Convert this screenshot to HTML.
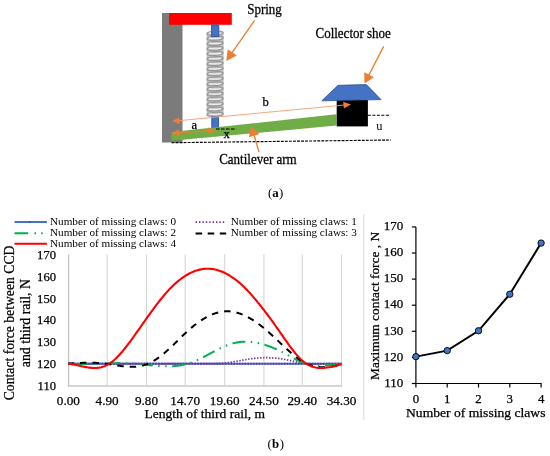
<!DOCTYPE html>
<html><head><meta charset="utf-8"><style>
html,body{margin:0;padding:0;background:#fff;}
svg{display:block;}
text{font-family:"Liberation Serif",serif;fill:#000;}
.sb{font-family:"Liberation Serif",serif;font-weight:bold;}
.t{stroke:#000;stroke-width:0.25px;}
</style></head><body>
<svg width="550" height="456" viewBox="0 0 550 456">

<rect x="162" y="13" width="20.5" height="129.5" fill="#7b7b7b"/>
<rect x="169" y="13" width="62.8" height="11.8" fill="#ff0000"/>
<rect x="206.6" y="31.5" width="17" height="85" rx="1.5" fill="#c2c2c2"/>
<ellipse cx="215.1" cy="33.20" rx="8.1" ry="1.9" fill="none" stroke="#979797" stroke-width="1.25" transform="rotate(-4 215.1 33.20)"/>
<path d="M209,33.00 Q215,34.20 221,33.00" fill="none" stroke="#eeeeee" stroke-width="1.3"/>
<ellipse cx="215.1" cy="38.26" rx="8.1" ry="1.9" fill="none" stroke="#979797" stroke-width="1.25" transform="rotate(-4 215.1 38.26)"/>
<path d="M209,38.06 Q215,39.26 221,38.06" fill="none" stroke="#eeeeee" stroke-width="1.3"/>
<ellipse cx="215.1" cy="43.32" rx="8.1" ry="1.9" fill="none" stroke="#979797" stroke-width="1.25" transform="rotate(-4 215.1 43.32)"/>
<path d="M209,43.12 Q215,44.32 221,43.12" fill="none" stroke="#eeeeee" stroke-width="1.3"/>
<ellipse cx="215.1" cy="48.38" rx="8.1" ry="1.9" fill="none" stroke="#979797" stroke-width="1.25" transform="rotate(-4 215.1 48.38)"/>
<path d="M209,48.18 Q215,49.38 221,48.18" fill="none" stroke="#eeeeee" stroke-width="1.3"/>
<ellipse cx="215.1" cy="53.44" rx="8.1" ry="1.9" fill="none" stroke="#979797" stroke-width="1.25" transform="rotate(-4 215.1 53.44)"/>
<path d="M209,53.24 Q215,54.44 221,53.24" fill="none" stroke="#eeeeee" stroke-width="1.3"/>
<ellipse cx="215.1" cy="58.50" rx="8.1" ry="1.9" fill="none" stroke="#979797" stroke-width="1.25" transform="rotate(-4 215.1 58.50)"/>
<path d="M209,58.30 Q215,59.50 221,58.30" fill="none" stroke="#eeeeee" stroke-width="1.3"/>
<ellipse cx="215.1" cy="63.56" rx="8.1" ry="1.9" fill="none" stroke="#979797" stroke-width="1.25" transform="rotate(-4 215.1 63.56)"/>
<path d="M209,63.36 Q215,64.56 221,63.36" fill="none" stroke="#eeeeee" stroke-width="1.3"/>
<ellipse cx="215.1" cy="68.62" rx="8.1" ry="1.9" fill="none" stroke="#979797" stroke-width="1.25" transform="rotate(-4 215.1 68.62)"/>
<path d="M209,68.42 Q215,69.62 221,68.42" fill="none" stroke="#eeeeee" stroke-width="1.3"/>
<ellipse cx="215.1" cy="73.68" rx="8.1" ry="1.9" fill="none" stroke="#979797" stroke-width="1.25" transform="rotate(-4 215.1 73.68)"/>
<path d="M209,73.48 Q215,74.68 221,73.48" fill="none" stroke="#eeeeee" stroke-width="1.3"/>
<ellipse cx="215.1" cy="78.74" rx="8.1" ry="1.9" fill="none" stroke="#979797" stroke-width="1.25" transform="rotate(-4 215.1 78.74)"/>
<path d="M209,78.54 Q215,79.74 221,78.54" fill="none" stroke="#eeeeee" stroke-width="1.3"/>
<ellipse cx="215.1" cy="83.80" rx="8.1" ry="1.9" fill="none" stroke="#979797" stroke-width="1.25" transform="rotate(-4 215.1 83.80)"/>
<path d="M209,83.60 Q215,84.80 221,83.60" fill="none" stroke="#eeeeee" stroke-width="1.3"/>
<ellipse cx="215.1" cy="88.86" rx="8.1" ry="1.9" fill="none" stroke="#979797" stroke-width="1.25" transform="rotate(-4 215.1 88.86)"/>
<path d="M209,88.66 Q215,89.86 221,88.66" fill="none" stroke="#eeeeee" stroke-width="1.3"/>
<ellipse cx="215.1" cy="93.92" rx="8.1" ry="1.9" fill="none" stroke="#979797" stroke-width="1.25" transform="rotate(-4 215.1 93.92)"/>
<path d="M209,93.72 Q215,94.92 221,93.72" fill="none" stroke="#eeeeee" stroke-width="1.3"/>
<ellipse cx="215.1" cy="98.98" rx="8.1" ry="1.9" fill="none" stroke="#979797" stroke-width="1.25" transform="rotate(-4 215.1 98.98)"/>
<path d="M209,98.78 Q215,99.98 221,98.78" fill="none" stroke="#eeeeee" stroke-width="1.3"/>
<ellipse cx="215.1" cy="104.04" rx="8.1" ry="1.9" fill="none" stroke="#979797" stroke-width="1.25" transform="rotate(-4 215.1 104.04)"/>
<path d="M209,103.84 Q215,105.04 221,103.84" fill="none" stroke="#eeeeee" stroke-width="1.3"/>
<ellipse cx="215.1" cy="109.10" rx="8.1" ry="1.9" fill="none" stroke="#979797" stroke-width="1.25" transform="rotate(-4 215.1 109.10)"/>
<path d="M209,108.90 Q215,110.10 221,108.90" fill="none" stroke="#eeeeee" stroke-width="1.3"/>
<ellipse cx="215.1" cy="114.16" rx="8.1" ry="1.9" fill="none" stroke="#979797" stroke-width="1.25" transform="rotate(-4 215.1 114.16)"/>
<path d="M209,113.96 Q215,115.16 221,113.96" fill="none" stroke="#eeeeee" stroke-width="1.3"/>
<rect x="211.6" y="25" width="7.2" height="11.4" fill="#4472c4" stroke="#2f52a0" stroke-width="0.9"/>
<rect x="211.8" y="117" width="6.8" height="11.6" fill="#4472c4" stroke="#2f52a0" stroke-width="0.9"/>
<polygon points="171.5,132 336.5,114.3 336.5,125.5 171.5,140.8" fill="#70ad47"/>
<rect x="336.7" y="100" width="31.2" height="26.4" fill="#000"/>
<polygon points="338,85.3 366.4,84.6 381,99.6 321.8,100.8" fill="#4472c4" stroke="#2f528f" stroke-width="0.8" stroke-linejoin="round"/>
<line x1="171.5" y1="142.7" x2="391" y2="140" stroke="#000" stroke-width="1.15" stroke-dasharray="2.9,1.15"/>
<line x1="367.9" y1="115.2" x2="389" y2="115.2" stroke="#000" stroke-width="1.15" stroke-dasharray="3,1.5"/>
<line x1="216" y1="129" x2="236.3" y2="129" stroke="#000" stroke-width="1.2" stroke-dasharray="3.6,1.4"/>
<line x1="177.23" y1="120.81" x2="345.77" y2="104.89" stroke="#f0a070" stroke-width="0.9"/>
<polygon points="351.00,104.40 343.85,108.49 343.21,101.72" fill="#ed7d31"/>
<polygon points="172.00,121.30 179.15,117.21 179.79,123.98" fill="#ed7d31"/>
<line x1="176.74" y1="132.95" x2="210.76" y2="130.65" stroke="#ed7d31" stroke-width="1.2"/>
<polygon points="216.00,130.30 208.75,134.20 208.29,127.41" fill="#ed7d31"/>
<polygon points="171.50,133.30 178.75,129.40 179.21,136.19" fill="#ed7d31"/>
<line x1="254.60" y1="20.30" x2="230.50" y2="54.97" stroke="#ed7d31" stroke-width="1.3"/>
<polygon points="226.30,61.00 227.78,49.24 236.81,55.52" fill="#ed7d31"/>
<line x1="383.60" y1="46.40" x2="367.70" y2="77.37" stroke="#ed7d31" stroke-width="1.3"/>
<polygon points="364.50,83.60 364.17,72.19 373.96,77.22" fill="#ed7d31"/>
<line x1="259.00" y1="152.00" x2="253.29" y2="132.71" stroke="#ed7d31" stroke-width="1.3"/>
<polygon points="251.30,126.00 259.41,134.03 248.87,137.15" fill="#ed7d31"/>
<text class="t" transform="translate(247.2,13.8) scale(1,1.06)" font-size="13">Spring</text>
<text class="t" transform="translate(315.5,37.8) scale(1,1.06)" font-size="13">Collector shoe</text>
<text class="t" transform="translate(219.2,163.8) scale(1,1.06)" font-size="13">Cantilever arm</text>
<text class="t" x="262.4" y="105.8" font-size="12.6">b</text>
<text class="t" x="191.4" y="128.9" font-size="12.6">a</text>
<text class="t" x="223.4" y="137.6" font-size="12.6">x</text>
<text x="376.3" y="130" font-size="12.4">u</text>
<text x="267.9" y="197.4" font-size="12.8">(</text><text class="sb" x="272.3" y="197.4" font-size="12.8">a</text><text x="279" y="197.4" font-size="12.8">)</text>
<text x="267.5" y="448.4" font-size="12.8">(</text><text class="sb" x="272" y="448.4" font-size="12.8">b</text><text x="279.7" y="448.4" font-size="12.8">)</text>
<line x1="68.6" y1="254.5" x2="68.6" y2="386" stroke="#c4c4c4" stroke-width="1.3"/>
<line x1="107.10" y1="254.5" x2="107.10" y2="385" stroke="#d6d6d6" stroke-width="1.1"/>
<line x1="146.50" y1="254.5" x2="146.50" y2="385" stroke="#d6d6d6" stroke-width="1.1"/>
<line x1="185.20" y1="254.5" x2="185.20" y2="385" stroke="#d6d6d6" stroke-width="1.1"/>
<line x1="224.70" y1="254.5" x2="224.70" y2="385" stroke="#d6d6d6" stroke-width="1.1"/>
<line x1="263.90" y1="254.5" x2="263.90" y2="385" stroke="#d6d6d6" stroke-width="1.1"/>
<line x1="302.30" y1="254.5" x2="302.30" y2="385" stroke="#d6d6d6" stroke-width="1.1"/>
<line x1="341.50" y1="254.5" x2="341.50" y2="385" stroke="#d6d6d6" stroke-width="1.1"/>
<line x1="67.9" y1="386" x2="342.10" y2="386" stroke="#c8c8c8" stroke-width="1.5"/>
<text class="t" x="56" y="389.7" font-size="12.6" text-anchor="end">110</text>
<text class="t" x="56" y="367.9" font-size="12.6" text-anchor="end">120</text>
<text class="t" x="56" y="346.1" font-size="12.6" text-anchor="end">130</text>
<text class="t" x="56" y="324.3" font-size="12.6" text-anchor="end">140</text>
<text class="t" x="56" y="302.5" font-size="12.6" text-anchor="end">150</text>
<text class="t" x="56" y="280.7" font-size="12.6" text-anchor="end">160</text>
<text class="t" x="56" y="258.9" font-size="12.6" text-anchor="end">170</text>
<text class="t" x="68.40" y="405.2" font-size="13.2" text-anchor="middle">0.00</text>
<text class="t" x="107.10" y="405.2" font-size="13.2" text-anchor="middle">4.90</text>
<text class="t" x="146.50" y="405.2" font-size="13.2" text-anchor="middle">9.80</text>
<text class="t" x="185.20" y="405.2" font-size="13.2" text-anchor="middle">14.70</text>
<text class="t" x="224.70" y="405.2" font-size="13.2" text-anchor="middle">19.60</text>
<text class="t" x="263.90" y="405.2" font-size="13.2" text-anchor="middle">24.50</text>
<text class="t" x="302.30" y="405.2" font-size="13.2" text-anchor="middle">29.40</text>
<text class="t" x="341.50" y="405.2" font-size="13.2" text-anchor="middle">34.30</text>
<text class="t" x="144.5" y="417.8" font-size="13" textLength="120.5" lengthAdjust="spacingAndGlyphs">Length of third rail, m</text>
<text class="t" transform="translate(13.9,322.95) rotate(-90)" font-size="13.7" text-anchor="middle">Contact force between CCD</text>
<text class="t" transform="translate(30,323.1) rotate(-90)" font-size="13.8" text-anchor="middle">and third rail, N</text>
<path d="M68.4,363.80 L341.50,363.80" stroke="#4472c4" stroke-width="2" fill="none"/>
<path d="M68.4,363.80 L341.50,363.80" stroke="#7030a0" stroke-width="2" fill="none" stroke-dasharray="1.3,1.5"/>
<path d="M68.50,363.60 L69.59,363.60 L70.69,363.60 L71.78,363.60 L72.88,363.60 L73.97,363.60 L75.07,363.60 L76.16,363.60 L77.25,363.60 L78.35,363.60 L79.44,363.60 L80.54,363.60 L81.63,363.60 L82.72,363.60 L83.82,363.60 L84.91,363.60 L86.01,363.60 L87.10,363.60 L88.20,363.60 L89.29,363.60 L90.38,363.60 L91.48,363.60 L92.57,363.60 L93.67,363.60 L94.76,363.60 L95.85,363.60 L96.95,363.60 L98.04,363.60 L99.14,363.60 L100.23,363.60 L101.33,363.60 L102.42,363.60 L103.51,363.60 L104.61,363.60 L105.70,363.60 L106.80,363.60 L107.89,363.60 L108.98,363.60 L110.08,363.60 L111.17,363.60 L112.27,363.60 L113.36,363.60 L114.46,363.60 L115.55,363.60 L116.64,363.60 L117.74,363.60 L118.83,363.60 L119.93,363.60 L121.02,363.60 L122.12,363.60 L123.21,363.60 L124.30,363.60 L125.40,363.60 L126.49,363.60 L127.59,363.60 L128.68,363.60 L129.77,363.60 L130.87,363.60 L131.96,363.60 L133.06,363.60 L134.15,363.60 L135.25,363.60 L136.34,363.60 L137.43,363.60 L138.53,363.60 L139.62,363.60 L140.72,363.60 L141.81,363.60 L142.90,363.60 L144.00,363.60 L145.09,363.60 L146.19,363.60 L147.28,363.60 L148.38,363.60 L149.47,363.60 L150.56,363.60 L151.66,363.60 L152.75,363.60 L153.85,363.60 L154.94,363.60 L156.04,363.60 L157.13,363.60 L158.22,363.60 L159.32,363.60 L160.41,363.60 L161.51,363.60 L162.60,363.60 L163.69,363.60 L164.79,363.60 L165.88,363.60 L166.98,363.60 L168.07,363.60 L169.17,363.60 L170.26,363.60 L171.35,363.60 L172.45,363.60 L173.54,363.60 L174.64,363.60 L175.73,363.60 L176.82,363.60 L177.92,363.60 L179.01,363.60 L180.11,363.60 L181.20,363.60 L182.30,363.60 L183.39,363.60 L184.48,363.60 L185.58,363.60 L186.67,363.60 L187.77,363.60 L188.86,363.60 L189.95,363.60 L191.05,363.60 L192.14,363.60 L193.24,363.60 L194.33,363.60 L195.43,363.60 L196.52,363.60 L197.61,363.60 L198.71,363.60 L199.80,363.60 L200.90,363.60 L201.99,363.60 L203.09,363.60 L204.18,363.59 L205.27,363.59 L206.37,363.58 L207.46,363.57 L208.56,363.57 L209.65,363.56 L210.74,363.55 L211.84,363.54 L212.93,363.52 L214.03,363.51 L215.12,363.50 L216.22,363.48 L217.31,363.45 L218.40,363.41 L219.50,363.35 L220.59,363.30 L221.69,363.23 L222.78,363.16 L223.87,363.08 L224.97,363.00 L226.06,362.90 L227.16,362.77 L228.25,362.62 L229.35,362.45 L230.44,362.27 L231.53,362.07 L232.63,361.88 L233.72,361.69 L234.82,361.52 L235.91,361.33 L237.01,361.14 L238.10,360.94 L239.19,360.74 L240.29,360.55 L241.38,360.35 L242.48,360.17 L243.57,359.99 L244.66,359.81 L245.76,359.63 L246.85,359.44 L247.95,359.26 L249.04,359.07 L250.14,358.90 L251.23,358.73 L252.32,358.58 L253.42,358.44 L254.51,358.32 L255.61,358.22 L256.70,358.14 L257.79,358.06 L258.89,357.99 L259.98,357.92 L261.08,357.85 L262.17,357.80 L263.27,357.75 L264.36,357.72 L265.45,357.70 L266.55,357.70 L267.64,357.72 L268.74,357.75 L269.83,357.79 L270.92,357.85 L272.02,357.91 L273.11,357.99 L274.21,358.07 L275.30,358.16 L276.40,358.25 L277.49,358.35 L278.58,358.45 L279.68,358.56 L280.77,358.70 L281.87,358.87 L282.96,359.06 L284.06,359.27 L285.15,359.50 L286.24,359.73 L287.34,359.97 L288.43,360.20 L289.53,360.43 L290.62,360.64 L291.71,360.86 L292.81,361.09 L293.90,361.32 L295.00,361.55 L296.09,361.78 L297.19,362.00 L298.28,362.22 L299.37,362.43 L300.47,362.66 L301.56,362.89 L302.66,363.12 L303.75,363.33 L304.84,363.49 L305.94,363.60 L307.03,363.66 L308.13,363.71 L309.22,363.76 L310.32,363.81 L311.41,363.84 L312.50,363.87 L313.60,363.89 L314.69,363.90 L315.79,363.90 L316.88,363.89 L317.97,363.88 L319.07,363.87 L320.16,363.86 L321.26,363.84 L322.35,363.82 L323.45,363.80 L324.54,363.78 L325.63,363.76 L326.73,363.75 L327.82,363.73 L328.92,363.71 L330.01,363.70 L331.11,363.69 L332.20,363.68 L333.29,363.67 L334.39,363.66 L335.48,363.65 L336.58,363.64 L337.67,363.63 L338.76,363.62 L339.86,363.61 L340.95,363.60 L341.50,363.60" stroke="#7030a0" stroke-width="1.7" fill="none" stroke-dasharray="1.4,1.6"/>
<path d="M68.50,363.39 L69.59,363.50 L70.69,363.60 L71.78,363.69 L72.88,363.77 L73.97,363.84 L75.07,363.90 L76.16,363.96 L77.25,364.00 L78.35,364.04 L79.44,364.07 L80.54,364.10 L81.63,364.11 L82.72,364.12 L83.82,364.13 L84.91,364.13 L86.01,364.12 L87.10,364.11 L88.20,364.10 L89.29,364.08 L90.38,364.05 L91.48,364.02 L92.57,363.99 L93.67,363.96 L94.76,363.92 L95.85,363.88 L96.95,363.84 L98.04,363.80 L99.14,363.75 L100.23,363.71 L101.33,363.66 L102.42,363.61 L103.51,363.57 L104.61,363.52 L105.70,363.48 L106.80,363.43 L107.89,363.39 L108.98,363.35 L110.08,363.31 L111.17,363.27 L112.27,363.24 L113.36,363.20 L114.46,363.18 L115.55,363.15 L116.64,363.13 L117.74,363.11 L118.83,363.10 L119.93,363.10 L121.02,363.09 L122.12,363.10 L123.21,363.11 L124.30,363.13 L125.40,363.15 L126.49,363.18 L127.59,363.22 L128.68,363.26 L129.77,363.32 L130.87,363.38 L131.96,363.45 L133.06,363.52 L134.15,363.61 L135.25,363.70 L136.34,363.79 L137.43,363.89 L138.53,364.00 L139.62,364.11 L140.72,364.22 L141.81,364.33 L142.90,364.45 L144.00,364.57 L145.09,364.69 L146.19,364.81 L147.28,364.92 L148.38,365.04 L149.47,365.16 L150.56,365.27 L151.66,365.38 L152.75,365.49 L153.85,365.60 L154.94,365.70 L156.04,365.79 L157.13,365.88 L158.22,365.96 L159.32,366.04 L160.41,366.11 L161.51,366.17 L162.60,366.22 L163.69,366.27 L164.79,366.30 L165.88,366.32 L166.98,366.33 L168.07,366.33 L169.17,366.32 L170.26,366.30 L171.35,366.26 L172.45,366.21 L173.54,366.14 L174.64,366.06 L175.73,365.96 L176.82,365.85 L177.92,365.72 L179.01,365.57 L180.11,365.41 L181.20,365.22 L182.30,365.02 L183.39,364.80 L184.48,364.55 L185.58,364.29 L186.67,364.00 L187.77,363.69 L188.86,363.36 L189.95,363.01 L191.05,362.63 L192.14,362.23 L193.24,361.80 L194.33,361.36 L195.43,360.90 L196.52,360.42 L197.61,359.93 L198.71,359.42 L199.80,358.89 L200.90,358.36 L201.99,357.81 L203.09,357.26 L204.18,356.69 L205.27,356.12 L206.37,355.55 L207.46,354.96 L208.56,354.38 L209.65,353.80 L210.74,353.21 L211.84,352.62 L212.93,352.04 L214.03,351.46 L215.12,350.89 L216.22,350.32 L217.31,349.76 L218.40,349.21 L219.50,348.67 L220.59,348.14 L221.69,347.62 L222.78,347.12 L223.87,346.63 L224.97,346.16 L226.06,345.70 L227.16,345.27 L228.25,344.86 L229.35,344.47 L230.44,344.10 L231.53,343.76 L232.63,343.44 L233.72,343.15 L234.82,342.89 L235.91,342.65 L237.01,342.44 L238.10,342.26 L239.19,342.10 L240.29,341.96 L241.38,341.85 L242.48,341.77 L243.57,341.71 L244.66,341.67 L245.76,341.66 L246.85,341.67 L247.95,341.70 L249.04,341.76 L250.14,341.83 L251.23,341.93 L252.32,342.05 L253.42,342.19 L254.51,342.35 L255.61,342.53 L256.70,342.73 L257.79,342.95 L258.89,343.19 L259.98,343.45 L261.08,343.72 L262.17,344.02 L263.27,344.33 L264.36,344.65 L265.45,345.00 L266.55,345.36 L267.64,345.74 L268.74,346.13 L269.83,346.54 L270.92,346.96 L272.02,347.40 L273.11,347.85 L274.21,348.31 L275.30,348.79 L276.40,349.28 L277.49,349.79 L278.58,350.31 L279.68,350.83 L280.77,351.38 L281.87,351.93 L282.96,352.49 L284.06,353.06 L285.15,353.65 L286.24,354.24 L287.34,354.84 L288.43,355.44 L289.53,356.04 L290.62,356.65 L291.71,357.25 L292.81,357.85 L293.90,358.44 L295.00,359.02 L296.09,359.59 L297.19,360.15 L298.28,360.69 L299.37,361.22 L300.47,361.73 L301.56,362.22 L302.66,362.68 L303.75,363.12 L304.84,363.53 L305.94,363.91 L307.03,364.26 L308.13,364.58 L309.22,364.86 L310.32,365.10 L311.41,365.30 L312.50,365.47 L313.60,365.60 L314.69,365.70 L315.79,365.77 L316.88,365.81 L317.97,365.83 L319.07,365.82 L320.16,365.79 L321.26,365.74 L322.35,365.68 L323.45,365.60 L324.54,365.50 L325.63,365.40 L326.73,365.29 L327.82,365.17 L328.92,365.05 L330.01,364.92 L331.11,364.80 L332.20,364.67 L333.29,364.56 L334.39,364.45 L335.48,364.34 L336.58,364.25 L337.67,364.17 L338.76,364.11 L339.86,364.07 L340.95,364.04 L341.50,364.04" stroke="#00b050" stroke-width="2" fill="none" stroke-dasharray="13,5.5,1.5,5.5,1.5,5.5" stroke-dashoffset="26.15"/>
<path d="M68.50,363.61 L69.59,363.54 L70.69,363.47 L71.78,363.40 L72.88,363.34 L73.97,363.28 L75.07,363.21 L76.16,363.15 L77.25,363.10 L78.35,363.04 L79.44,362.99 L80.54,362.95 L81.63,362.91 L82.72,362.87 L83.82,362.83 L84.91,362.80 L86.01,362.78 L87.10,362.76 L88.20,362.75 L89.29,362.75 L90.38,362.75 L91.48,362.76 L92.57,362.77 L93.67,362.80 L94.76,362.83 L95.85,362.87 L96.95,362.92 L98.04,362.98 L99.14,363.04 L100.23,363.12 L101.33,363.21 L102.42,363.30 L103.51,363.41 L104.61,363.53 L105.70,363.66 L106.80,363.80 L107.89,363.96 L108.98,364.11 L110.08,364.28 L111.17,364.45 L112.27,364.62 L113.36,364.80 L114.46,364.98 L115.55,365.16 L116.64,365.33 L117.74,365.50 L118.83,365.67 L119.93,365.83 L121.02,365.99 L122.12,366.14 L123.21,366.27 L124.30,366.40 L125.40,366.51 L126.49,366.61 L127.59,366.69 L128.68,366.76 L129.77,366.80 L130.87,366.83 L131.96,366.84 L133.06,366.82 L134.15,366.78 L135.25,366.72 L136.34,366.63 L137.43,366.51 L138.53,366.36 L139.62,366.18 L140.72,365.97 L141.81,365.73 L142.90,365.45 L144.00,365.14 L145.09,364.78 L146.19,364.39 L147.28,363.97 L148.38,363.51 L149.47,363.01 L150.56,362.48 L151.66,361.92 L152.75,361.32 L153.85,360.69 L154.94,360.03 L156.04,359.34 L157.13,358.62 L158.22,357.87 L159.32,357.09 L160.41,356.28 L161.51,355.44 L162.60,354.58 L163.69,353.69 L164.79,352.78 L165.88,351.84 L166.98,350.87 L168.07,349.88 L169.17,348.88 L170.26,347.85 L171.35,346.81 L172.45,345.76 L173.54,344.70 L174.64,343.62 L175.73,342.54 L176.82,341.46 L177.92,340.38 L179.01,339.29 L180.11,338.21 L181.20,337.14 L182.30,336.07 L183.39,335.01 L184.48,333.96 L185.58,332.93 L186.67,331.91 L187.77,330.92 L188.86,329.94 L189.95,328.98 L191.05,328.04 L192.14,327.12 L193.24,326.22 L194.33,325.34 L195.43,324.49 L196.52,323.65 L197.61,322.84 L198.71,322.05 L199.80,321.29 L200.90,320.55 L201.99,319.84 L203.09,319.15 L204.18,318.48 L205.27,317.84 L206.37,317.23 L207.46,316.65 L208.56,316.09 L209.65,315.56 L210.74,315.06 L211.84,314.59 L212.93,314.14 L214.03,313.73 L215.12,313.35 L216.22,313.00 L217.31,312.67 L218.40,312.39 L219.50,312.13 L220.59,311.91 L221.69,311.72 L222.78,311.56 L223.87,311.44 L224.97,311.35 L226.06,311.30 L227.16,311.28 L228.25,311.30 L229.35,311.35 L230.44,311.44 L231.53,311.57 L232.63,311.72 L233.72,311.91 L234.82,312.14 L235.91,312.40 L237.01,312.68 L238.10,313.00 L239.19,313.35 L240.29,313.73 L241.38,314.14 L242.48,314.58 L243.57,315.04 L244.66,315.54 L245.76,316.06 L246.85,316.60 L247.95,317.18 L249.04,317.78 L250.14,318.40 L251.23,319.05 L252.32,319.72 L253.42,320.41 L254.51,321.13 L255.61,321.87 L256.70,322.63 L257.79,323.41 L258.89,324.21 L259.98,325.03 L261.08,325.87 L262.17,326.72 L263.27,327.60 L264.36,328.49 L265.45,329.40 L266.55,330.33 L267.64,331.27 L268.74,332.22 L269.83,333.19 L270.92,334.18 L272.02,335.18 L273.11,336.19 L274.21,337.21 L275.30,338.23 L276.40,339.27 L277.49,340.31 L278.58,341.35 L279.68,342.39 L280.77,343.44 L281.87,344.48 L282.96,345.52 L284.06,346.55 L285.15,347.57 L286.24,348.59 L287.34,349.59 L288.43,350.58 L289.53,351.56 L290.62,352.52 L291.71,353.47 L292.81,354.39 L293.90,355.29 L295.00,356.17 L296.09,357.03 L297.19,357.85 L298.28,358.65 L299.37,359.42 L300.47,360.16 L301.56,360.86 L302.66,361.53 L303.75,362.16 L304.84,362.75 L305.94,363.31 L307.03,363.82 L308.13,364.29 L309.22,364.73 L310.32,365.12 L311.41,365.48 L312.50,365.81 L313.60,366.10 L314.69,366.35 L315.79,366.58 L316.88,366.77 L317.97,366.93 L319.07,367.05 L320.16,367.15 L321.26,367.22 L322.35,367.27 L323.45,367.28 L324.54,367.27 L325.63,367.24 L326.73,367.18 L327.82,367.10 L328.92,366.99 L330.01,366.86 L331.11,366.72 L332.20,366.55 L333.29,366.36 L334.39,366.16 L335.48,365.94 L336.58,365.70 L337.67,365.44 L338.76,365.18 L339.86,364.89 L340.95,364.60 L341.50,364.45" stroke="#000" stroke-width="2" fill="none" stroke-dasharray="6.5,6" stroke-dashoffset="1.05"/>
<path d="M68.50,363.66 L69.59,363.80 L70.69,363.97 L71.78,364.15 L72.88,364.35 L73.97,364.56 L75.07,364.78 L76.16,365.02 L77.25,365.26 L78.35,365.50 L79.44,365.75 L80.54,365.99 L81.63,366.23 L82.72,366.47 L83.82,366.69 L84.91,366.91 L86.01,367.11 L87.10,367.30 L88.20,367.46 L89.29,367.61 L90.38,367.74 L91.48,367.84 L92.57,367.91 L93.67,367.95 L94.76,367.95 L95.85,367.93 L96.95,367.86 L98.04,367.75 L99.14,367.60 L100.23,367.41 L101.33,367.16 L102.42,366.87 L103.51,366.52 L104.61,366.12 L105.70,365.66 L106.80,365.14 L107.89,364.56 L108.98,363.91 L110.08,363.20 L111.17,362.42 L112.27,361.58 L113.36,360.69 L114.46,359.74 L115.55,358.74 L116.64,357.68 L117.74,356.58 L118.83,355.43 L119.93,354.24 L121.02,353.01 L122.12,351.75 L123.21,350.44 L124.30,349.10 L125.40,347.74 L126.49,346.34 L127.59,344.92 L128.68,343.48 L129.77,342.01 L130.87,340.53 L131.96,339.04 L133.06,337.53 L134.15,336.01 L135.25,334.48 L136.34,332.94 L137.43,331.40 L138.53,329.85 L139.62,328.30 L140.72,326.74 L141.81,325.18 L142.90,323.63 L144.00,322.07 L145.09,320.52 L146.19,318.97 L147.28,317.43 L148.38,315.89 L149.47,314.36 L150.56,312.84 L151.66,311.32 L152.75,309.82 L153.85,308.34 L154.94,306.86 L156.04,305.40 L157.13,303.96 L158.22,302.53 L159.32,301.13 L160.41,299.74 L161.51,298.38 L162.60,297.04 L163.69,295.72 L164.79,294.42 L165.88,293.16 L166.98,291.92 L168.07,290.71 L169.17,289.53 L170.26,288.38 L171.35,287.26 L172.45,286.18 L173.54,285.12 L174.64,284.10 L175.73,283.11 L176.82,282.15 L177.92,281.23 L179.01,280.33 L180.11,279.47 L181.20,278.64 L182.30,277.85 L183.39,277.08 L184.48,276.35 L185.58,275.65 L186.67,274.99 L187.77,274.36 L188.86,273.76 L189.95,273.19 L191.05,272.66 L192.14,272.16 L193.24,271.69 L194.33,271.26 L195.43,270.86 L196.52,270.50 L197.61,270.17 L198.71,269.87 L199.80,269.61 L200.90,269.38 L201.99,269.18 L203.09,269.02 L204.18,268.90 L205.27,268.81 L206.37,268.75 L207.46,268.73 L208.56,268.74 L209.65,268.79 L210.74,268.87 L211.84,268.99 L212.93,269.14 L214.03,269.33 L215.12,269.55 L216.22,269.80 L217.31,270.09 L218.40,270.41 L219.50,270.76 L220.59,271.15 L221.69,271.57 L222.78,272.02 L223.87,272.50 L224.97,273.02 L226.06,273.57 L227.16,274.15 L228.25,274.76 L229.35,275.40 L230.44,276.08 L231.53,276.78 L232.63,277.52 L233.72,278.29 L234.82,279.09 L235.91,279.91 L237.01,280.77 L238.10,281.66 L239.19,282.58 L240.29,283.53 L241.38,284.50 L242.48,285.51 L243.57,286.54 L244.66,287.61 L245.76,288.70 L246.85,289.82 L247.95,290.97 L249.04,292.15 L250.14,293.35 L251.23,294.57 L252.32,295.82 L253.42,297.09 L254.51,298.38 L255.61,299.68 L256.70,301.01 L257.79,302.35 L258.89,303.70 L259.98,305.07 L261.08,306.45 L262.17,307.84 L263.27,309.25 L264.36,310.67 L265.45,312.10 L266.55,313.54 L267.64,315.00 L268.74,316.46 L269.83,317.94 L270.92,319.43 L272.02,320.93 L273.11,322.44 L274.21,323.97 L275.30,325.50 L276.40,327.04 L277.49,328.60 L278.58,330.16 L279.68,331.73 L280.77,333.31 L281.87,334.89 L282.96,336.47 L284.06,338.05 L285.15,339.62 L286.24,341.18 L287.34,342.72 L288.43,344.25 L289.53,345.76 L290.62,347.24 L291.71,348.69 L292.81,350.11 L293.90,351.50 L295.00,352.84 L296.09,354.15 L297.19,355.41 L298.28,356.62 L299.37,357.78 L300.47,358.89 L301.56,359.93 L302.66,360.92 L303.75,361.84 L304.84,362.68 L305.94,363.46 L307.03,364.16 L308.13,364.80 L309.22,365.37 L310.32,365.88 L311.41,366.32 L312.50,366.71 L313.60,367.04 L314.69,367.32 L315.79,367.55 L316.88,367.73 L317.97,367.86 L319.07,367.95 L320.16,368.00 L321.26,368.01 L322.35,367.98 L323.45,367.92 L324.54,367.83 L325.63,367.71 L326.73,367.57 L327.82,367.40 L328.92,367.21 L330.01,367.01 L331.11,366.78 L332.20,366.55 L333.29,366.30 L334.39,366.05 L335.48,365.78 L336.58,365.52 L337.67,365.26 L338.76,364.99 L339.86,364.73 L340.95,364.48 L341.50,364.36" stroke="#ff0000" stroke-width="2.1" fill="none" stroke-linejoin="round"/>
<line x1="14.5" y1="222" x2="46.9" y2="222" stroke="#4472c4" stroke-width="1.8"/>
<line x1="29.5" y1="221" x2="29.5" y2="223" stroke="#7030a0" stroke-width="1"/>
<line x1="14.5" y1="233.3" x2="46.9" y2="233.3" stroke="#00b050" stroke-width="2" stroke-dasharray="13.7,6.3,1.5,5.2,1.5,6"/>
<line x1="14.5" y1="243.8" x2="46.9" y2="243.8" stroke="#ff0000" stroke-width="2.1"/>
<line x1="195.6" y1="222.2" x2="226.2" y2="222.2" stroke="#7030a0" stroke-width="1.7" stroke-dasharray="1.4,2"/>
<line x1="195.6" y1="233.4" x2="226.2" y2="233.4" stroke="#000" stroke-width="2" stroke-dasharray="6.5,5.6"/>
<text x="50" y="224.80" font-size="11.2" textLength="126" lengthAdjust="spacingAndGlyphs">Number of missing claws: 0</text>
<text x="50" y="235.85" font-size="11.2" textLength="126" lengthAdjust="spacingAndGlyphs">Number of missing claws: 2</text>
<text x="50" y="246.90" font-size="11.2" textLength="126" lengthAdjust="spacingAndGlyphs">Number of missing claws: 4</text>
<text x="230.8" y="224.80" font-size="11.2" textLength="126" lengthAdjust="spacingAndGlyphs">Number of missing claws: 1</text>
<text x="230.8" y="235.85" font-size="11.2" textLength="126" lengthAdjust="spacingAndGlyphs">Number of missing claws: 3</text>
<line x1="363.8" y1="214.7" x2="363.8" y2="420.2" stroke="#d9d9d9" stroke-width="1"/>
<line x1="415.9" y1="226.90" x2="415.9" y2="384.0" stroke="#000" stroke-width="1.2"/>
<line x1="415.4" y1="383.5" x2="541.60" y2="383.5" stroke="#000" stroke-width="1.2"/>
<line x1="411.9" y1="383.50" x2="415.9" y2="383.50" stroke="#000" stroke-width="1.2"/>
<text class="t" x="403.3" y="386.70" font-size="13" text-anchor="end">110</text>
<line x1="411.9" y1="357.40" x2="415.9" y2="357.40" stroke="#000" stroke-width="1.2"/>
<text class="t" x="403.3" y="360.60" font-size="13" text-anchor="end">120</text>
<line x1="411.9" y1="331.30" x2="415.9" y2="331.30" stroke="#000" stroke-width="1.2"/>
<text class="t" x="403.3" y="334.50" font-size="13" text-anchor="end">130</text>
<line x1="411.9" y1="305.20" x2="415.9" y2="305.20" stroke="#000" stroke-width="1.2"/>
<text class="t" x="403.3" y="308.40" font-size="13" text-anchor="end">140</text>
<line x1="411.9" y1="279.10" x2="415.9" y2="279.10" stroke="#000" stroke-width="1.2"/>
<text class="t" x="403.3" y="282.30" font-size="13" text-anchor="end">150</text>
<line x1="411.9" y1="253.00" x2="415.9" y2="253.00" stroke="#000" stroke-width="1.2"/>
<text class="t" x="403.3" y="256.20" font-size="13" text-anchor="end">160</text>
<line x1="411.9" y1="226.90" x2="415.9" y2="226.90" stroke="#000" stroke-width="1.2"/>
<text class="t" x="403.3" y="230.10" font-size="13" text-anchor="end">170</text>
<line x1="415.90" y1="383.5" x2="415.90" y2="387.5" stroke="#000" stroke-width="1.2"/>
<text class="t" x="415.90" y="402.8" font-size="12.8" text-anchor="middle">0</text>
<line x1="447.20" y1="383.5" x2="447.20" y2="387.5" stroke="#000" stroke-width="1.2"/>
<text class="t" x="447.20" y="402.8" font-size="12.8" text-anchor="middle">1</text>
<line x1="478.50" y1="383.5" x2="478.50" y2="387.5" stroke="#000" stroke-width="1.2"/>
<text class="t" x="478.50" y="402.8" font-size="12.8" text-anchor="middle">2</text>
<line x1="509.80" y1="383.5" x2="509.80" y2="387.5" stroke="#000" stroke-width="1.2"/>
<text class="t" x="509.80" y="402.8" font-size="12.8" text-anchor="middle">3</text>
<line x1="541.10" y1="383.5" x2="541.10" y2="387.5" stroke="#000" stroke-width="1.2"/>
<text class="t" x="541.10" y="402.8" font-size="12.8" text-anchor="middle">4</text>
<text class="t" x="406" y="416.9" font-size="12.8" textLength="139.5" lengthAdjust="spacingAndGlyphs">Number of missing claws</text>
<text class="t" transform="translate(379.4,305.9) rotate(-90)" font-size="13.2" text-anchor="middle" textLength="148" lengthAdjust="spacingAndGlyphs">Maximum contact force , N</text>
<polyline points="415.90,356.62 447.20,350.61 478.50,330.78 509.80,294.24 541.10,243.08" fill="none" stroke="#000" stroke-width="2"/>
<circle cx="415.90" cy="356.62" r="3.2" fill="#4472c4" stroke="#000" stroke-width="0.9"/>
<circle cx="447.20" cy="350.61" r="3.2" fill="#4472c4" stroke="#000" stroke-width="0.9"/>
<circle cx="478.50" cy="330.78" r="3.2" fill="#4472c4" stroke="#000" stroke-width="0.9"/>
<circle cx="509.80" cy="294.24" r="3.2" fill="#4472c4" stroke="#000" stroke-width="0.9"/>
<circle cx="541.10" cy="243.08" r="3.2" fill="#4472c4" stroke="#000" stroke-width="0.9"/>
</svg>
</body></html>
